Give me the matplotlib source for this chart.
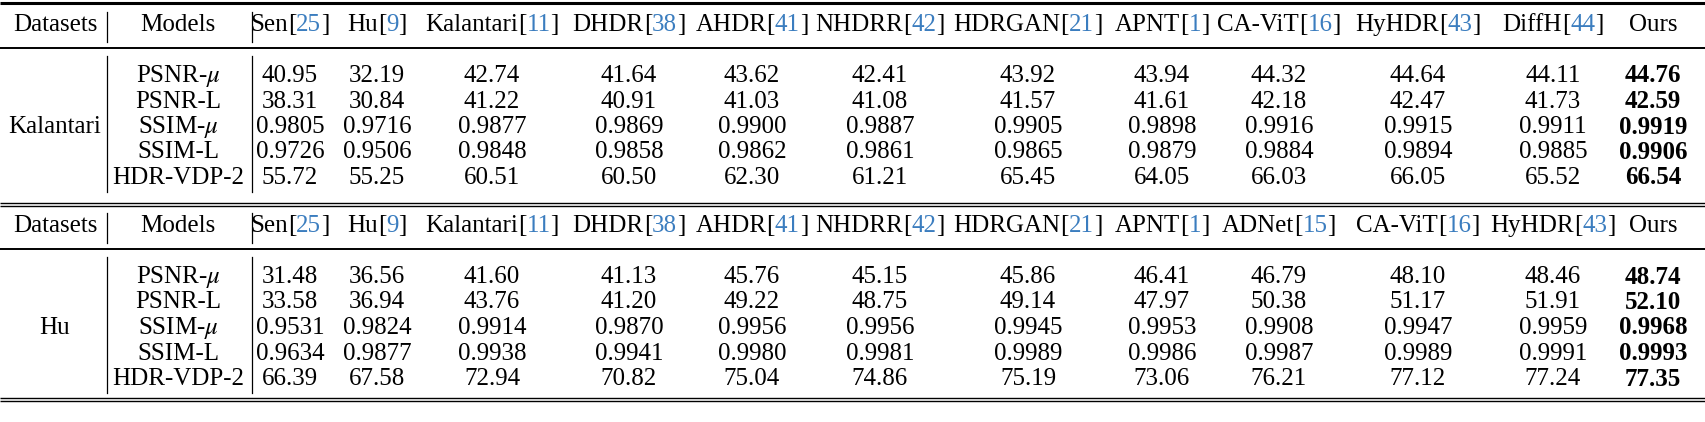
import matplotlib
matplotlib.use("Agg")
import matplotlib.pyplot as plt

plt.rcParams['font.family'] = ['Liberation Serif', 'DejaVu Serif']
plt.rcParams['mathtext.fontset'] = 'stix'

metrics = ["PSNR-$\\mu$", "PSNR-L", "SSIM-$\\mu$", "SSIM-L", "HDR-VDP-2"]

models1 = [("Sen", "25"), ("Hu", "9"), ("Kalantari", "11"), ("DHDR", "38"), ("AHDR", "41"),
           ("NHDRR", "42"), ("HDRGAN", "21"), ("APNT", "1"), ("CA-ViT", "16"), ("HyHDR", "43"),
           ("DiffH", "44"), ("Ours", None)]
vals1 = [
    ["40.95", "32.19", "42.74", "41.64", "43.62", "42.41", "43.92", "43.94", "44.32", "44.64", "44.11", "44.76"],
    ["38.31", "30.84", "41.22", "40.91", "41.03", "41.08", "41.57", "41.61", "42.18", "42.47", "41.73", "42.59"],
    ["0.9805", "0.9716", "0.9877", "0.9869", "0.9900", "0.9887", "0.9905", "0.9898", "0.9916", "0.9915", "0.9911", "0.9919"],
    ["0.9726", "0.9506", "0.9848", "0.9858", "0.9862", "0.9861", "0.9865", "0.9879", "0.9884", "0.9894", "0.9885", "0.9906"],
    ["55.72", "55.25", "60.51", "60.50", "62.30", "61.21", "65.45", "64.05", "66.03", "66.05", "65.52", "66.54"],
]
models2 = [("Sen", "25"), ("Hu", "9"), ("Kalantari", "11"), ("DHDR", "38"), ("AHDR", "41"),
           ("NHDRR", "42"), ("HDRGAN", "21"), ("APNT", "1"), ("ADNet", "15"), ("CA-ViT", "16"),
           ("HyHDR", "43"), ("Ours", None)]
vals2 = [
    ["31.48", "36.56", "41.60", "41.13", "45.76", "45.15", "45.86", "46.41", "46.79", "48.10", "48.46", "48.74"],
    ["33.58", "36.94", "43.76", "41.20", "49.22", "48.75", "49.14", "47.97", "50.38", "51.17", "51.91", "52.10"],
    ["0.9531", "0.9824", "0.9914", "0.9870", "0.9956", "0.9956", "0.9945", "0.9953", "0.9908", "0.9947", "0.9959", "0.9968"],
    ["0.9634", "0.9877", "0.9938", "0.9941", "0.9980", "0.9981", "0.9989", "0.9986", "0.9987", "0.9989", "0.9991", "0.9993"],
    ["66.39", "67.58", "72.94", "70.82", "75.04", "74.86", "75.19", "73.06", "76.21", "77.12", "77.24", "77.35"],
]
datasets = ["Kalantari", "Hu"]

W, H = 1706, 422
fig = plt.figure(figsize=(W / 100, H / 100), dpi=100)
ax = fig.add_axes([0, 0, 1, 1])
ax.set_xlim(0, W)
ax.set_ylim(H, 0)
ax.axis('off')
fig.canvas.draw()
renderer = fig.canvas.get_renderer()

FS = 18
BLUE = '#3b7dbf'
col_x = [290, 377, 492, 629, 752, 880, 1028, 1162, 1279, 1418, 1553, 1653]
ds_x, mod_x = 55, 178
vl1, vl2 = 107, 252

def hline(y, lw):
    ax.plot([0, W], [y, y], color='black', lw=lw, solid_capstyle='butt')

def vline(x, y0, y1):
    ax.plot([x, x], [y0, y1], color='black', lw=0.9)

def header_cell(x, y, name, ref):
    if ref is None:
        ax.text(x, y, name, ha='center', va='center', fontsize=FS)
        return
    parts = [(name, 'black'), ('[', 'black'), (ref, BLUE), (']', 'black')]
    widths = []
    for s, _ in parts:
        t = ax.text(0, 0, s, fontsize=FS)
        widths.append(t.get_window_extent(renderer).width)
        t.remove()
    cx = x - sum(widths) / 2
    for (s, c), w in zip(parts, widths):
        ax.text(cx, y, s, ha='left', va='center', fontsize=FS, color=c)
        cx += w

def block(y_top, models, vals, dsname, double_top):
    if double_top:
        hline(y_top - 1.5, 1.0)
        hline(y_top + 1.5, 1.0)
    else:
        hline(y_top, 2.2)
    yh = y_top + 22
    ax.text(ds_x, yh, "Datasets", ha='center', va='center', fontsize=FS)
    ax.text(mod_x, yh, "Models", ha='center', va='center', fontsize=FS)
    for (n, r), x in zip(models, col_x):
        header_cell(x, yh, n, r)
    yl = y_top + 45
    hline(yl, 1.4)
    vline(vl1, y_top + 9, yl - 6)
    vline(vl2, y_top + 9, yl - 6)
    rows_y = [yl + 28 + 25.5 * i for i in range(5)]
    vline(vl1, yl + 8, rows_y[-1] + 14)
    vline(vl2, yl + 8, rows_y[-1] + 14)
    ax.text(ds_x, rows_y[2], dsname, ha='center', va='center', fontsize=FS)
    for i, (m, row) in enumerate(zip(metrics, vals)):
        ax.text(mod_x, rows_y[i], m, ha='center', va='center', fontsize=FS)
        for j, (v, x) in enumerate(zip(row, col_x)):
            ax.text(x, rows_y[i], v, ha='center', va='center', fontsize=FS,
                    fontweight='bold' if j == len(row) - 1 else 'normal')

block(3, models1, vals1, datasets[0], False)
block(204, models2, vals2, datasets[1], True)
hline(397.5, 1.0)
hline(400.5, 1.0)

fig.savefig("out.png", dpi=100)
